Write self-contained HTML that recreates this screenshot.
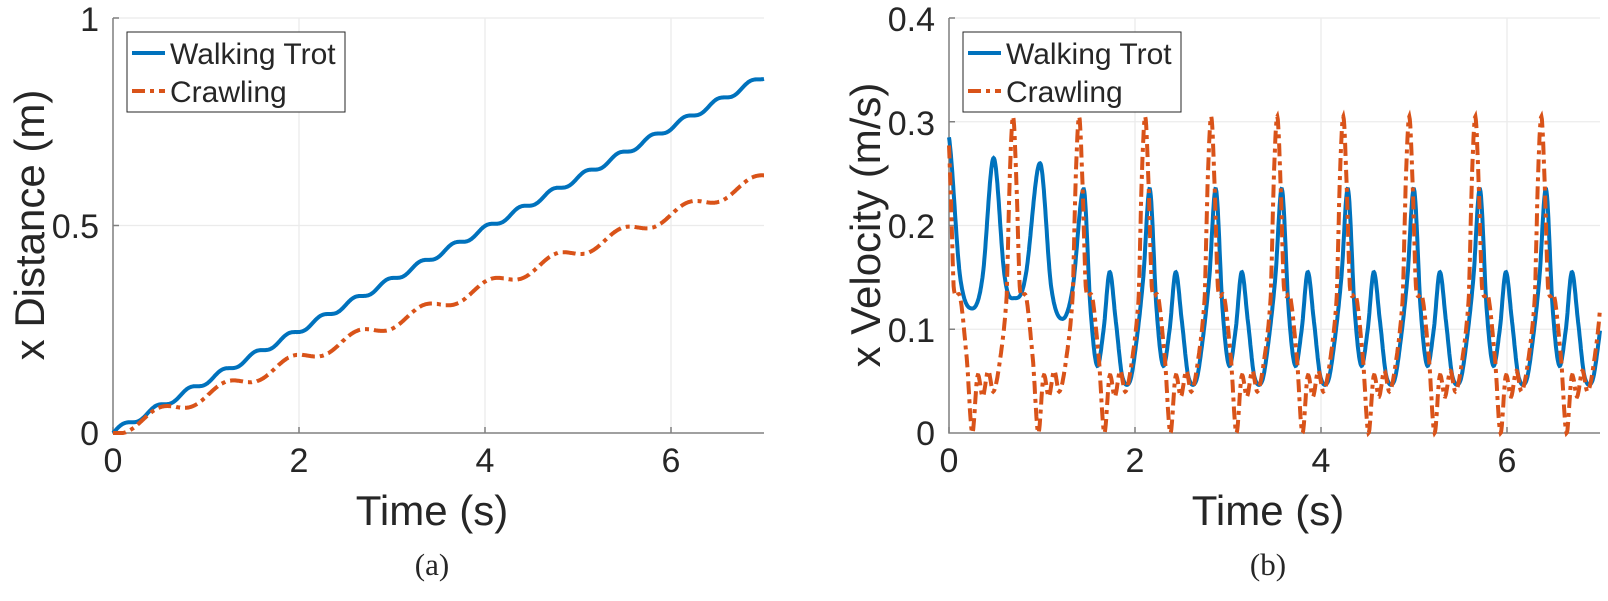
<!DOCTYPE html>
<html><head><meta charset="utf-8"><style>
body{margin:0;background:#fff;width:1608px;height:596px;overflow:hidden}
svg text{font-family:"Liberation Sans",sans-serif;fill:#262626}
</style></head><body>
<svg id="s" width="1608" height="596" xmlns="http://www.w3.org/2000/svg">
<g id="g1"></g>
<g font-size="34" text-anchor="middle">
<text x="113" y="472">0</text><text x="299" y="472">2</text><text x="485" y="472">4</text><text x="671" y="472">6</text>
<text x="949" y="472">0</text><text x="1135" y="472">2</text><text x="1321" y="472">4</text><text x="1507" y="472">6</text>
</g>
<g font-size="34" text-anchor="end">
<text x="99" y="445">0</text><text x="99" y="238">0.5</text><text x="99" y="31">1</text>
<text x="935" y="445">0</text><text x="935" y="342">0.1</text><text x="935" y="238">0.2</text><text x="935" y="135">0.3</text><text x="935" y="31">0.4</text>
</g>
<text x="432" y="525" font-size="42" text-anchor="middle">Time (s)</text>
<text x="1268" y="525" font-size="42" text-anchor="middle">Time (s)</text>
<text transform="translate(44,225) rotate(-90)" font-size="42" text-anchor="middle">x Distance (m)</text>
<text transform="translate(880,225) rotate(-90)" font-size="42" text-anchor="middle">x Velocity (m/s)</text>
<text x="432" y="575" font-size="31" text-anchor="middle" style="font-family:'Liberation Serif',serif">(a)</text>
<text x="1268" y="575" font-size="31" text-anchor="middle" style="font-family:'Liberation Serif',serif">(b)</text>
</svg>
<script>
const g=document.getElementById('g1');
function el(t,a){const e=document.createElementNS('http://www.w3.org/2000/svg',t);for(const k in a)e.setAttribute(k,a[k]);g.appendChild(e);return e;}
function axes(x0,ymax,yt){
  const L=x0,R=x0+651,T=18,B=433;
  for(let i=0;i<=3;i++){const x=L+i*186;el('line',{x1:x,y1:T,x2:x,y2:B,stroke:'#ebebeb','stroke-width':1.3});}
  yt.forEach(v=>{const y=B-(B-T)*v/ymax;el('line',{x1:L,y1:y,x2:R,y2:y,stroke:'#ebebeb','stroke-width':1.3});});
  el('path',{d:`M${L} ${T}V${B}H${R}`,fill:'none',stroke:'#808080','stroke-width':1.5});
  for(let i=0;i<=3;i++){const x=L+i*186;el('line',{x1:x,y1:B,x2:x,y2:B-6,stroke:'#808080','stroke-width':1.5});}
  yt.forEach(v=>{const y=B-(B-T)*v/ymax;el('line',{x1:L,y1:y,x2:L+6,y2:y,stroke:'#808080','stroke-width':1.5});});
  return {L,T,B,sx:t=>L+t*93,sy:v=>B-(B-T)*v/ymax};
}
function cr(keys,p){
  const n=keys.length;
  for(let i=0;i<n-1;i++){const a=keys[i],b=keys[i+1];if(p>=a[0]&&p<=b[0]){
    const f=(p-a[0])/(b[0]-a[0]);
    const p0=(keys[i-1]||a)[1],p1=a[1],p2=b[1],p3=(keys[i+2]||b)[1];
    const f2=f*f,f3=f2*f;
    return 0.5*((2*p1)+(-p0+p2)*f+(2*p0-5*p1+4*p2-p3)*f2+(-p0+3*p1-3*p2+p3)*f3);}}
  return keys[n-1][1];}
function path(A,f){let d='';for(let i=0;i<=1400;i++){const t=7*i/1400;const v=Math.max(0,f(t));d+=(i?'L':'M')+A.sx(t).toFixed(1)+' '+A.sy(v).toFixed(1);}return d;}
const A=axes(113,1,[0.5,1]);
const B=axes(949,0.4,[0.1,0.2,0.3,0.4]);
const W='#0072bd',O='#d95319';
el('path',{d:path(A,t=>0.1225*t+0.007*Math.sin(2*Math.PI*(t/0.355)-0.3)+0.002),fill:'none',stroke:W,'stroke-width':4});
el('path',{d:path(A,t=>0.087*t-0.014*Math.sin(2*Math.PI*(t/0.71)+0.3)+0.004),fill:'none',stroke:O,'stroke-width':4,'stroke-dasharray':'13 5 4 5'});
const ok=[[-0.1,0.13],[-0.05,0.25],[0,0.305],[0.05,0.24],[0.1,0.14],[0.2,0.13],[0.3,0.07],[0.38,0.0],[0.46,0.055],[0.54,0.035],[0.62,0.06],[0.7,0.04],[0.8,0.07],[0.9,0.13],[0.95,0.25],[1,0.305],[1.05,0.24],[1.1,0.14]];
const ov=t=>{let p=((t+0.02)%0.71)/0.71;return cr(ok,p);};
const bk=[[-0.1,0.15],[0,0.235],[0.1,0.12],[0.2,0.065],[0.3,0.1],[0.39,0.155],[0.48,0.11],[0.58,0.055],[0.7,0.05],[0.8,0.09],[0.9,0.15],[1,0.235],[1.1,0.12]];
const early=[[-0.1,0.3],[0,0.285],[0.12,0.15],[0.25,0.12],[0.36,0.15],[0.48,0.265],[0.6,0.15],[0.7,0.13],[0.82,0.15],[0.98,0.26],[1.1,0.14],[1.22,0.11],[1.33,0.14],[1.45,0.235],[1.55,0.12]];
const bv=t=>t<1.45?cr(early,t):cr(bk,((t-1.45)%0.71)/0.71);
el('path',{d:path(B,bv),fill:'none',stroke:W,'stroke-width':4});
el('path',{d:path(B,ov),fill:'none',stroke:O,'stroke-width':4,'stroke-dasharray':'13 5 4 5'});
[113,949].forEach(x=>{const l=x+14;
  el('rect',{x:l,y:32,width:218,height:80,fill:'#fff',stroke:'#262626','stroke-width':1});
  el('line',{x1:l+5,y1:53,x2:l+38,y2:53,stroke:W,'stroke-width':4});
  el('line',{x1:l+5,y1:91,x2:l+38,y2:91,stroke:O,'stroke-width':4,'stroke-dasharray':'13 5 4 5'});
  const t1=el('text',{x:l+43,y:64,'font-size':30});t1.textContent='Walking Trot';
  const t2=el('text',{x:l+43,y:102,'font-size':30});t2.textContent='Crawling';
});
</script>
</body></html>
